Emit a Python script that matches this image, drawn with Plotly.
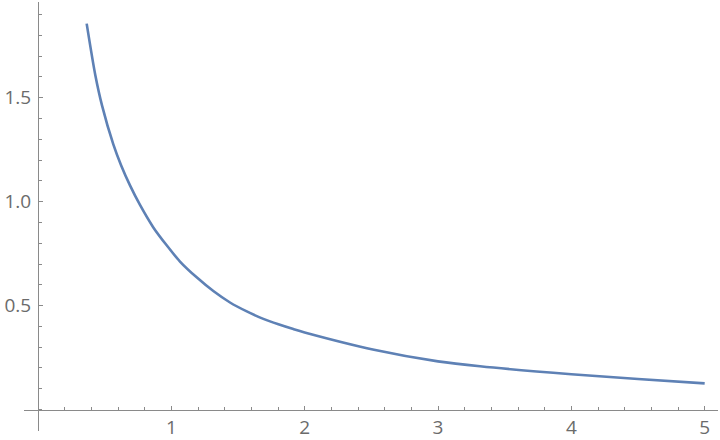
import plotly.graph_objects as go

# values
x_vals = [0.365, 0.43, 0.48, 0.565, 0.623, 0.69, 0.765, 0.865, 0.965, 1.065, 1.19,
          1.315, 1.44, 1.566, 1.69, 1.803, 1.915, 2.0, 2.52, 3.0, 3.315, 4.0, 4.5, 5.0]
y_vals = [1.856, 1.608, 1.463, 1.275, 1.175, 1.078, 0.984, 0.876, 0.790, 0.712, 0.636,
          0.570, 0.515, 0.472, 0.436, 0.410, 0.387, 0.371, 0.288, 0.232, 0.208, 0.170, 0.147, 0.126]

x_ticks = [1, 2, 3, 4, 5]
y_ticks = [0.5, 1.0, 1.5]

X_RANGE = [-0.105, 5.1]
Y_RANGE = [-0.103, 1.96]

AXIS_COL = "#8a8a8a"
LABEL_COL = "#6b6b6b"

fig = go.Figure()
fig.add_trace(go.Scatter(x=x_vals, y=y_vals, mode="lines",
                         line=dict(color="#5E81B5", width=2.6, shape="spline", smoothing=0.8),
                         hoverinfo="skip"))

# axes cross at the origin, like the source plot
xpos = (0 - X_RANGE[0]) / (X_RANGE[1] - X_RANGE[0])
ypos = (0 - Y_RANGE[0]) / (Y_RANGE[1] - Y_RANGE[0])

fig.update_layout(
    width=720, height=440,
    margin=dict(l=24, r=2, t=2, b=9, autoexpand=False),
    paper_bgcolor="white", plot_bgcolor="white",
    showlegend=False,
    font=dict(family="Open Sans", size=19, color=LABEL_COL),
    xaxis=dict(range=X_RANGE, anchor="free", position=ypos, showgrid=False, zeroline=False,
               automargin=False, showline=True, linecolor=AXIS_COL, linewidth=1,
               tickvals=x_ticks, ticktext=[str(v) for v in x_ticks],
               ticks="inside", ticklen=4, tickcolor=AXIS_COL, ticklabelstandoff=1,
               minor=dict(ticks="inside", ticklen=2.5, dtick=0.2, tick0=0, tickcolor=AXIS_COL)),
    yaxis=dict(range=Y_RANGE, anchor="free", position=xpos, showgrid=False, zeroline=False,
               automargin=False, showline=True, linecolor=AXIS_COL, linewidth=1,
               tickvals=y_ticks, ticktext=[f"{v:.1f}" for v in y_ticks],
               ticks="inside", ticklen=4, tickcolor=AXIS_COL, ticklabelstandoff=3,
               minor=dict(ticks="inside", ticklen=2.5, dtick=0.1, tick0=0, tickcolor=AXIS_COL)),
)

# page body has a default 8px margin; drop it so the figure fills the window
fig.write_html("out.html", config={"displayModeBar": False},
               post_script="document.body.style.margin='0';")
